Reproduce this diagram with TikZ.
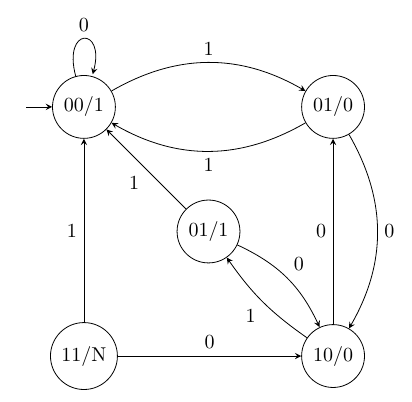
\documentclass[tikz,border=0pt]{standalone}
\usepackage{amsmath,tikz}
\usetikzlibrary{automata,positioning,arrows}

\begin{document}
\begin{tikzpicture}[>=stealth]
		\useasboundingbox (-1.476,-0.791) rectangle (5.768,6.26);
		\draw (0,4.38) node [state, initial, initial text={}] (a) {00/1};
		\draw (4.38,4.38) node [state] (b) {01/0};
		\draw (2.19,2.19) node [state] (c) {01/1};
		\draw (0,0) node [state] (d) {11/N};
		\draw (4.38,0) node [state] (e) {10/0};

		\draw [->]
			(a) edge [loop above] node [above] {0} ()
			(a) edge [bend left] node [above] {1} (b)
			(b) edge [bend left] node [below] {1} (a)
			(b) edge [bend left] node [right] {0} (e)
			(e) edge node [left] {0} (b)
			(d) edge node [left] {1} (a)
			(d) edge node [above] {0} (e)
			(c) edge node [below left] {1} (a)
			(c) edge [bend left=20] node [above right] {0} (e)
			(e) edge [bend left=10] node [below left] {1} (c)
		;
	\end{tikzpicture}
\end{document}
